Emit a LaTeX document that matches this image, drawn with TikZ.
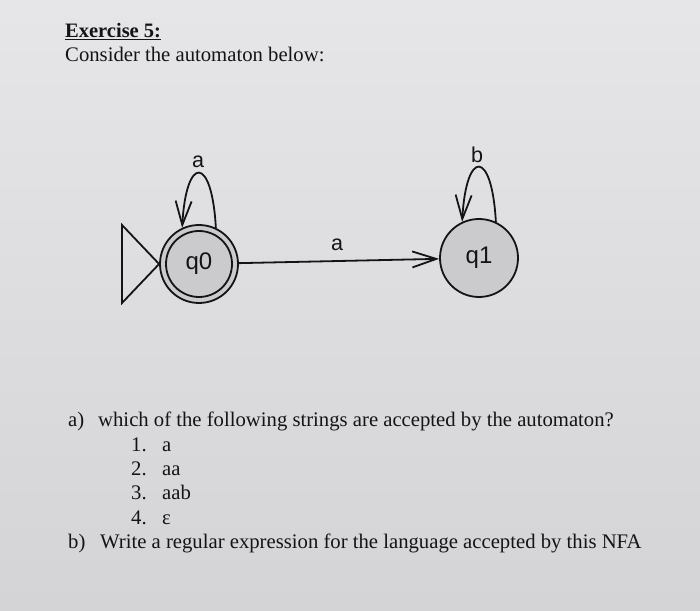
\documentclass[tikz,border=0pt]{standalone}
\usepackage{fontspec}
\setmainfont{Liberation Serif}
\newfontfamily\labfont{Liberation Sans}
\usetikzlibrary{arrows.meta}
\definecolor{papertop}{RGB}{230,230,232}
\definecolor{paperbot}{RGB}{212,212,214}
\definecolor{statefill}{RGB}{203,203,205}
\definecolor{ink}{RGB}{20,20,20}
\begin{document}
\begin{tikzpicture}[x=1pt,y=1pt,
  every node/.style={inner sep=0pt},
  txt/.style={anchor=base west, font=\fontsize{20.7}{23}\selectfont, text=ink},
  statenode/.style={circle, draw=ink, line width=1.8pt, fill=statefill, minimum size=78pt},
  lbl/.style={font=\labfont\fontsize{21.5}{22}\selectfont, text=ink},
  slbl/.style={font=\labfont\fontsize{24}{24}\selectfont, text=ink},
  edge/.style={draw=ink, line width=1.8pt, -{Straight Barb[length=24pt,width=16pt]}},
  initmark/.style={draw=ink, line width=1.8pt, line join=miter}
]
\shade[top color=papertop, bottom color=paperbot] (0,0) rectangle (700,610);
\useasboundingbox (0,0) rectangle (700,610);

% header
\node[txt, font=\bfseries\fontsize{20.5}{23}\selectfont] (ex) at (65,572) {\underline{Exercise 5:}};
\node[txt] (cons) at (65,548) {Consider the automaton below:};

% states
\node[statenode] (q0) at (199,346) {};
\node[circle, draw=ink, line width=1.8pt, minimum size=66pt, slbl] (q0i) at (q0) {q0};
\node[statenode, slbl] (q1) at (479,352) {q1};

% initial marker
\coordinate (t1) at (122,385);
\coordinate (t2) at (122,307);
\draw[initmark] (t1) -- (q0.west) -- (t2) -- cycle;

% loops
\draw[edge] (q0.65) .. controls +(-4,73) and +(4,73) .. (q0.115);
\draw[edge] (q1.65) .. controls +(-4,73) and +(4,73) .. (q1.115);
\node[lbl] (la) at (198,448) {a};
\node[lbl] (lb) at (477,455) {b};

% transition
\draw[edge] (q0) -- (q1);
\node[lbl] (lt) at (337,365) {a};

% questions
\node[txt] (qa) at (68,183) {a)};
\node[txt] (qatext) at (98,183) {which of the following strings are accepted by the automaton?};
\node[txt] (n1) at (131,158) {1.};
\node[txt] (s1) at (162,158) {a};
\node[txt] (n2) at (131,135) {2.};
\node[txt] (s2) at (162,135) {aa};
\node[txt] (n3) at (131,111) {3.};
\node[txt] (s3) at (162,111) {aab};
\node[txt] (n4) at (131,86) {4.};
\node[txt] (s4) at (162,86) {ε};
\node[txt] (qb) at (68,62) {b)};
\node[txt] (qbtext) at (100,62) {Write a regular expression for the language accepted by this NFA};
\end{tikzpicture}
\end{document}
